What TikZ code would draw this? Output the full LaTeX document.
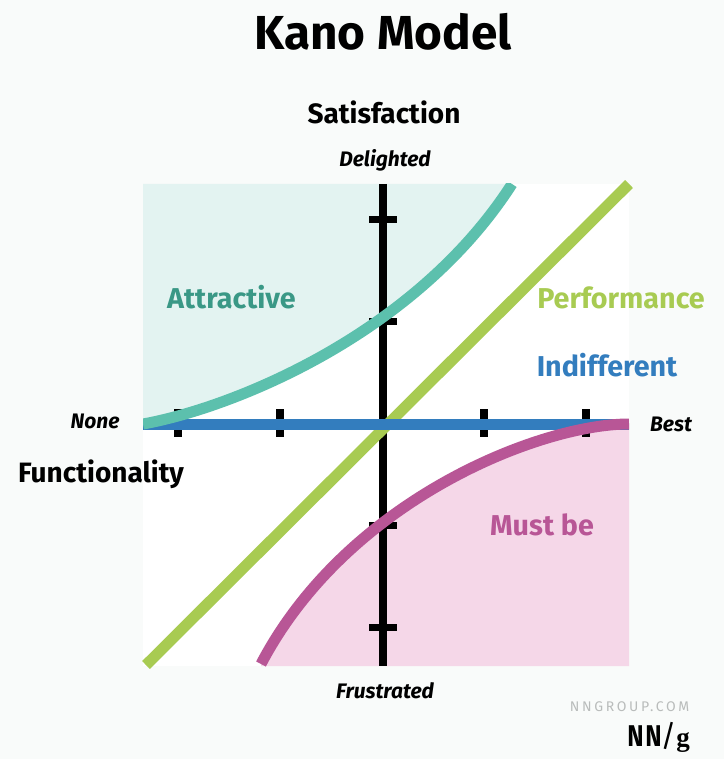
\documentclass[tikz,border=0pt]{standalone}
\usepackage{fontspec}
\setmainfont{Fira Sans}
\definecolor{pagebg}{HTML}{F9FBFA}
\definecolor{teal}{HTML}{5CC0AD}
\definecolor{tealfill}{HTML}{E3F3F1}
\definecolor{tealtext}{HTML}{3A9886}
\definecolor{lime}{HTML}{A8CB52}
\definecolor{azure}{HTML}{337DBE}
\definecolor{plum}{HTML}{B85696}
\definecolor{plumfill}{HTML}{F5D7E8}
\definecolor{logogrey}{HTML}{B9BCBB}
\tikzset{
  curveline/.style={line width=11pt,line cap=butt},
  axisline/.style={line width=8pt,black},
  tickline/.style={line width=7.5pt,black},
  label/.style={font=\fontsize{28.7}{30}\selectfont\bfseries,inner sep=0pt,anchor=base},
  headline/.style={font=\fontsize{28}{30}\selectfont\bfseries,inner sep=0pt,anchor=base},
  endlabel/.style={font=\fontsize{21}{24}\selectfont\bfseries\itshape,inner sep=0pt,anchor=base},
}
\begin{document}
\begin{tikzpicture}[x=1pt,y=-1pt]
\useasboundingbox (0,0) rectangle (724,759);
\fill[pagebg] (0,0) rectangle (724,759);
\coordinate (tl) at (143,184);
\coordinate (br) at (629,666);
\coordinate (c) at (383,424);
\coordinate (left) at (143,424);
\coordinate (right) at (629,424);
\coordinate (top) at (383,184);
\coordinate (bot) at (383,666);
\fill[white] (tl) rectangle (br);
% shaded regions
\fill[tealfill] (left) .. controls (232,408) and (415,335) .. (512,184) -- (tl) -- cycle;
\fill[plumfill] (right) .. controls (540,424) and (347,500) .. (261,664) -- (261,666) -- (br) -- cycle;
% ticks
\foreach \y in {219.5,321.5,525.5,627.5} \draw[tickline] (369,\y) -- (397,\y);
\foreach \x in {178,280,484,586} \draw[tickline] (\x,409) -- (\x,437);
% axes and curves
\draw[axisline] (top) -- (bot);
\draw[curveline,lime] (146,665) -- (629,184);
\draw[curveline,azure] (left) -- (right);
\begin{scope}
\clip (tl) rectangle (700,666);
\draw[curveline,teal] (left) .. controls (232,408) and (415,335) .. (512,184);
\end{scope}
\begin{scope}
\clip (100,150) rectangle (br);
\draw[curveline,plum] (right) .. controls (540,424) and (347,500) .. (261,664);
\end{scope}
% texts
\node[headline,font=\fontsize{47.7}{50}\selectfont\bfseries] (title) at (383,50) {Kano Model};
\node[headline] (sat) at (384,124) {Satisfaction};
\node[headline] (func) at (101,482) {Functionality};
\node[endlabel] (del) at (385,166.5) {Delighted};
\node[endlabel] (fru) at (385,698) {Frustrated};
\node[endlabel] (none) at (95,428) {None};
\node[endlabel] (best) at (671,431) {Best};
\node[label,text=tealtext] (attr) at (231.5,308) {Attractive};
\node[label,text=lime] (perf) at (621,308) {Performance};
\node[label,text=azure] (ind) at (607,376.5) {Indifferent};
\node[label,text=plum] (must) at (542,535) {Must be};
\node[inner sep=0pt,anchor=base east,text=logogrey,font=\fontsize{14}{15}\selectfont] (site) at (689.5,711) {\addfontfeature{LetterSpace=19}NNGROUP.COM};
\node[inner sep=0pt,anchor=base east,font=\fontsize{30}{32}\selectfont] (logo) at (690,746) {{\addfontfeature{FakeStretch=0.82,LetterSpace=6}\bfseries NN}\hspace{-1pt}/{\fontspec{Liberation Serif}\bfseries\fontsize{27}{30}\selectfont g}};
\end{tikzpicture}
\end{document}
